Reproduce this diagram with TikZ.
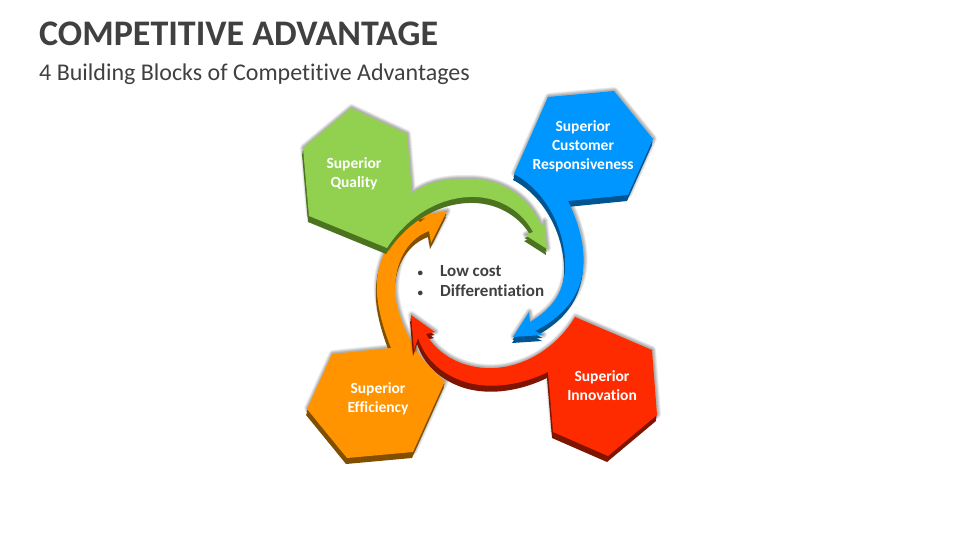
\documentclass[tikz,border=0pt]{standalone}
\usepackage{fontspec}
\setmainfont[Ligatures=NoCommon]{Carlito}
\definecolor{inkgrey}{HTML}{404040}
\definecolor{greenface}{HTML}{92D050}
\definecolor{greenside}{HTML}{4B7320}
\definecolor{blueface}{HTML}{0096FF}
\definecolor{blueside}{HTML}{00548F}
\definecolor{redface}{HTML}{FF2B00}
\definecolor{redside}{HTML}{7F1500}
\definecolor{orangeface}{HTML}{FF9300}
\definecolor{orangeside}{HTML}{805000}
\tikzset{
  block label/.style={text=white, align=center, font=\fontsize{15.5}{19}\selectfont\bfseries},
  soft edge/.style={draw=black, line join=round, draw opacity=0.07, line width=#1},
}
\newcommand{\bulletmark}{\makebox[25pt][l]{\hspace{2.5pt}\fontsize{11}{11}\selectfont\textbullet}}
% one block: soft edge, extruded side, then the face
\newcommand{\blockshape}[3]{%
  \foreach \w in {7pt,5.5pt,4pt,2.5pt,1.5pt} \draw[soft edge=\w, xshift=0.5pt, yshift=0.5pt] #3;
  \fill[#2, xshift=-1pt, yshift=-6pt] #3;
  \fill[#2, xshift=-0.5pt, yshift=-3pt] #3;
  \fill[#1] #3;
}
\begin{document}
\begin{tikzpicture}[x=1pt, y=-1pt]
  \useasboundingbox (0,0) rectangle (960,540);
  \node[anchor=west, inner sep=0pt, text=inkgrey, font=\fontsize{36}{40}\selectfont\bfseries] (title) at (39,34) {COMPETITIVE ADVANTAGE};
  \node[anchor=west, inner sep=0pt, text=inkgrey, font=\fontsize{24}{26}\selectfont] (subtitle) at (39,74) {4 Building Blocks of Competitive Advantages};
  % orange
  \blockshape{orangeface}{orangeside}{(332,354) -- (391,348) .. controls (380,320) and (372,290) .. (380,265) .. controls (385,245) and (400,230) .. (415,222) -- (423,215) -- (447,211) -- (431,243) -- (429,231) .. controls (405,240) and (395,265) .. (395,290) .. controls (396,320) and (418,362) .. (445,381) -- (413,452) -- (347,458) -- (307,409) -- cycle}
  \fill[orangeside] (418,220) -- (425,218) -- (420,222) -- cycle;
  % red
  \blockshape{redface}{redside}{(575,317) -- (652,350) -- (657,415) -- (608,456) -- (553,432) -- (548,372) .. controls (515,388) and (480,390) .. (455,378) .. controls (438,370) and (425,358) .. (418,338) -- (414,350) -- (411,315) -- (435,332) -- (426,334) .. controls (435,350) and (455,366) .. (485,368) .. controls (520,370) and (555,350) .. (575,317) -- cycle}
  % blue
  \blockshape{blueface}{blueside}{(548,97) -- (614,91) -- (653,139) -- (628,195) -- (568,201) .. controls (580,225) and (588,255) .. (581,280) .. controls (575,303) and (557,320) .. (535,331) -- (543,335) -- (513,337) -- (529,312) -- (530,322) .. controls (550,310) and (563,295) .. (565,270) .. controls (567,230) and (545,190) .. (514,174) -- cycle}
  % green
  \blockshape{greenface}{greenside}{(351,108) -- (407,134) -- (412,193) .. controls (430,180) and (450,178) .. (475,179) .. controls (505,181) and (530,198) .. (542,227) -- (544,221) -- (547,249) -- (525,235) -- (533,232) .. controls (520,208) and (495,196) .. (470,197) .. controls (435,198) and (405,220) .. (387,248) -- (309,216) -- (303,148) -- cycle}
  \node[block label] (quality) at (354,174) {Superior\\Quality};
  \node[block label] (customer) at (583,146.5) {Superior\\Customer\\Responsiveness};
  \node[block label] (innovation) at (602,386) {Superior\\Innovation};
  \node[block label] (efficiency) at (378,399) {Superior\\Efficiency};
  \node[anchor=west, inner sep=0pt, text=inkgrey, align=left, font=\fontsize{17}{20}\selectfont\bfseries] (centre) at (415,281) {\bulletmark Low cost\\\bulletmark Differentiation};
\end{tikzpicture}
\end{document}
